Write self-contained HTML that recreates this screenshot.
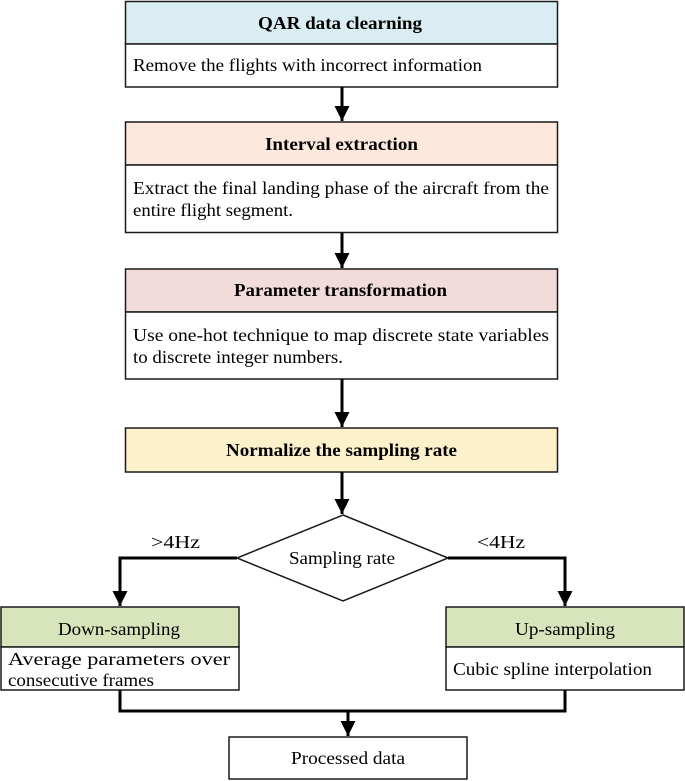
<!DOCTYPE html>
<html><head><meta charset="utf-8"><style>
html,body{margin:0;padding:0;background:#fff;}
svg{display:block;}
text{font-family:"Liberation Serif","Times New Roman",Times,serif;fill:#000;}
.h{font-weight:bold;font-size:18px;}
.b{font-size:18px;}
</style></head><body>
<svg width="685" height="781" viewBox="0 0 685 781" xmlns="http://www.w3.org/2000/svg">
<defs>
<marker id="a" viewBox="0 0 10 10" refX="10" refY="5" markerWidth="5" markerHeight="5" markerUnits="strokeWidth" orient="auto">
<path d="M0,0 L10,5 L0,10 z" fill="#000"/></marker>
</defs>
<g stroke="#1a1a1a" stroke-width="1.5">
<rect x="125.5" y="1.5" width="432" height="42.5" fill="#daedf3"/>
<rect x="125.5" y="44" width="432" height="43" fill="#fff"/>
<rect x="125.5" y="122" width="432" height="43" fill="#fce8dc"/>
<rect x="125.5" y="165" width="432" height="67.5" fill="#fff"/>
<rect x="125.5" y="269" width="432" height="43" fill="#f2dcdb"/>
<rect x="125.5" y="312" width="432" height="67" fill="#fff"/>
<rect x="125.5" y="428" width="432" height="44" fill="#fdf1cc"/>
<polygon points="343,515 448,558 343,601 237,558" fill="#fff"/>
<rect x="1" y="607" width="238" height="40" fill="#d8e4bc"/>
<rect x="1" y="647" width="238" height="43" fill="#fff"/>
<rect x="446" y="607" width="238" height="40" fill="#d8e4bc"/>
<rect x="446" y="647" width="238" height="43" fill="#fff"/>
<rect x="229" y="737" width="238" height="42" fill="#fff"/>
</g>
<g stroke="#000" stroke-width="3" fill="none">
<line x1="342" y1="87" x2="342" y2="121" marker-end="url(#a)"/>
<line x1="342" y1="233" x2="342" y2="268" marker-end="url(#a)"/>
<line x1="342" y1="379" x2="342" y2="427" marker-end="url(#a)"/>
<line x1="342" y1="472" x2="342" y2="514" marker-end="url(#a)"/>
<polyline points="237,558 120,558 120,606" marker-end="url(#a)"/>
<polyline points="448,558 565,558 565,606" marker-end="url(#a)"/>
<polyline points="120,690 120,711 565,711 565,690"/>
<line x1="348" y1="711" x2="348" y2="736" marker-end="url(#a)"/>
</g>
<text class="h" x="258" y="29" textLength="164" lengthAdjust="spacingAndGlyphs">QAR data clearning</text>
<text class="b" x="133" y="71" textLength="349" lengthAdjust="spacingAndGlyphs">Remove the flights with incorrect information</text>
<text class="h" x="265" y="150" textLength="153" lengthAdjust="spacingAndGlyphs">Interval extraction</text>
<text class="b" x="133" y="194" textLength="416" lengthAdjust="spacingAndGlyphs">Extract the final landing phase of the aircraft from the</text>
<text class="b" x="133" y="216" textLength="160" lengthAdjust="spacingAndGlyphs">entire flight segment.</text>
<text class="h" x="234" y="296" textLength="213" lengthAdjust="spacingAndGlyphs">Parameter transformation</text>
<text class="b" x="133" y="341" textLength="416" lengthAdjust="spacingAndGlyphs">Use one-hot technique to map discrete state variables</text>
<text class="b" x="133" y="363" textLength="210" lengthAdjust="spacingAndGlyphs">to discrete integer numbers.</text>
<text class="h" x="226" y="456" textLength="231" lengthAdjust="spacingAndGlyphs">Normalize the sampling rate</text>
<text class="b" x="289" y="564" textLength="106" lengthAdjust="spacingAndGlyphs">Sampling rate</text>
<text class="b" x="151" y="548" textLength="49" lengthAdjust="spacingAndGlyphs">&gt;4Hz</text>
<text class="b" x="477" y="548" textLength="48" lengthAdjust="spacingAndGlyphs">&lt;4Hz</text>
<text class="b" x="58" y="635" textLength="122" lengthAdjust="spacingAndGlyphs">Down-sampling</text>
<text class="b" x="515" y="635" textLength="100" lengthAdjust="spacingAndGlyphs">Up-sampling</text>
<text class="b" x="8" y="665" textLength="222" lengthAdjust="spacingAndGlyphs">Average parameters over</text>
<text class="b" x="8" y="686" textLength="146" lengthAdjust="spacingAndGlyphs">consecutive frames</text>
<text class="b" x="453" y="675" textLength="199" lengthAdjust="spacingAndGlyphs">Cubic spline interpolation</text>
<text class="b" x="291" y="764" textLength="114" lengthAdjust="spacingAndGlyphs">Processed data</text>
</svg>
</body></html>
